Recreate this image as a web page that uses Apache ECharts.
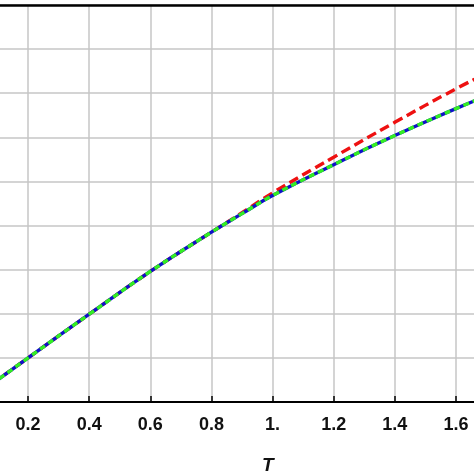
<!DOCTYPE html>
<html><head><meta charset="utf-8">
<script src="https://cdn.jsdelivr.net/npm/echarts@6/dist/echarts.min.js"></script>
<style>html,body{margin:0;padding:0;background:#fff;overflow:hidden;width:474px;height:474px}
#wrap{position:relative;width:474px;height:474px;overflow:hidden}
#c{position:absolute;left:-36px;top:0;width:556px;height:474px}</style>
</head><body><div id="wrap"><div id="c"></div></div>
<script>
var T      = [0, 0.2, 0.4, 0.6, 0.8, 0.9, 1.0, 1.2, 1.4, 1.6, 1.68];
var red    = [0, 1.0, 1.99, 2.96, 3.85, 4.29, 4.74, 5.55, 6.34, 7.10, 7.38];
var green  = [0, 1.0, 1.99, 2.96, 3.85, 4.27, 4.68, 5.38, 6.04, 6.65, 6.88];
var blue   = green.slice();
var xTicks = [0.2, 0.4, 0.6, 0.8, 1.0, 1.2, 1.4, 1.6];

function pairs(ys){ return T.map(function(t,i){ return [t, ys[i]]; }); }

var chart = echarts.init(document.getElementById('c'), null, {renderer:'canvas'});
chart.setOption({
  animation:false,
  grid:{left:0, right:0, top:5, bottom:72, containLabel:false},
  xAxis:[{
    type:'value', min:0, max:1.8, interval:0.2, position:'bottom',
    axisLine:{show:true, lineStyle:{color:'#000', width:2}},
    axisTick:{show:true, inside:true, length:6, lineStyle:{color:'#000', width:1.5}},
    axisLabel:{margin:14, fontFamily:'Liberation Sans, Arial, sans-serif', fontWeight:'bold', fontSize:18, color:'#111',
      formatter:function(v){ var r=Math.round(v*10)/10; if(xTicks.indexOf(r)<0) return ''; return r===1 ? '1.' : r.toFixed(1); }},
    splitLine:{show:true, lineStyle:{color:'#c6c6c6', width:1.5}}
  },{
    type:'value', min:0, max:1.8, interval:0.2, position:'top',
    axisLine:{show:true, lineStyle:{color:'#000', width:2.5}},
    axisTick:{show:false}, axisLabel:{show:false}, splitLine:{show:false}
  }],
  yAxis:{
    type:'value', min:0, max:9, interval:1,
    axisLine:{show:false}, axisTick:{show:false}, axisLabel:{show:false},
    splitLine:{show:true, lineStyle:{color:'#c6c6c6', width:1.5}}
  },
  graphic:[{type:'text', left:298, top:456, style:{text:'T', fontFamily:'Liberation Sans, Arial, sans-serif', fontWeight:'bold', fontStyle:'italic', fontSize:19, fill:'#111'}}],
  series:[
    {type:'line', data:pairs(red), smooth:0.5, symbol:'none', z:2,
     lineStyle:{color:'#ee1111', width:3.4, type:[10,5]}},
    {type:'line', data:pairs(blue), smooth:0.5, symbol:'none', z:3,
     lineStyle:{color:'#1010c8', width:3.4, type:'solid'}},
    {type:'line', data:pairs(green), smooth:0.5, symbol:'none', z:4,
     lineStyle:{color:'#33ee22', width:3.4, type:[6,4]}}
  ]
});
</script></body></html>
